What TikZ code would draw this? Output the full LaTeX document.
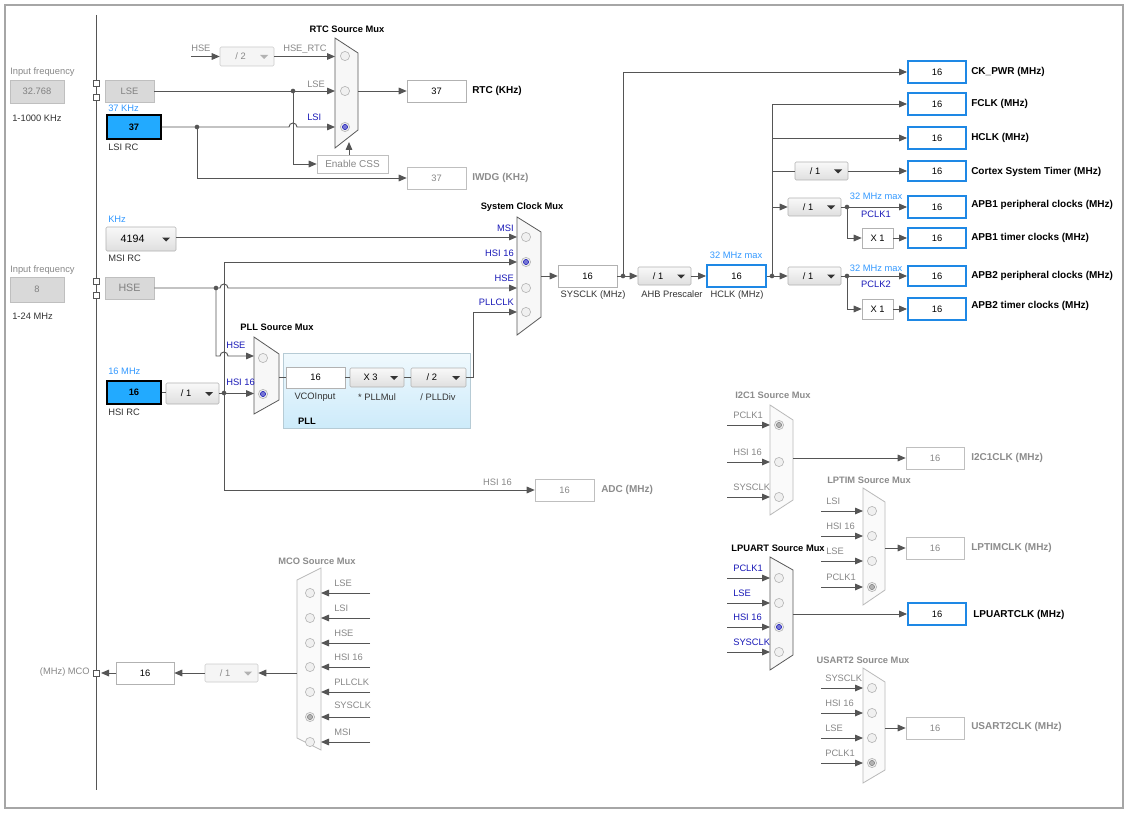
\documentclass[tikz,border=0pt]{standalone}
\usepackage{fontspec}
\setmainfont{Liberation Sans}
\usetikzlibrary{arrows.meta}
\definecolor{lblue}{HTML}{3399FF}
\definecolor{dblue}{HTML}{1A1AB8}
\definecolor{fillb}{HTML}{22AAFF}
\definecolor{bordb}{HTML}{1E88E5}
\definecolor{lc}{HTML}{555555}
\definecolor{gtxt}{HTML}{888888}
\definecolor{pllb}{HTML}{CDEBFA}
\newcommand\B[7]{\node[#1,minimum width={(#5-#3)*0.75pt},minimum height={(#6-#4)*0.75pt}] (#2) at ({(#3+#5)/2},{(#4+#6)/2}) {#7};}
\newcommand\D[7]{\node[#1,minimum width={(#5-#3)*0.75pt},minimum height={(#6-#4)*0.75pt}] (#2) at ({(#3+#5)/2},{(#4+#6)/2}) {};
 \node[#1x] at ({#3+(#5-#3)*0.38},{(#4+#6)/2}) {#7};
 \fill[#1t] ({#5-14},{(#4+#6)/2-1.5}) -- ++(8,0) -- ++(-4,4) -- cycle;}
\newcommand\Mux[7]{\draw[#1] (#2,#3) -- (#2,#4) -- (#5,#7) -- (#5,#6) -- cycle;}
\newcommand\R[2]{\draw[rad] (#1,#2) circle[radius=4.6];}
\newcommand\Rs[3]{\draw[rad] (#2,#3) circle[radius=4.6]; \draw[#1,fill=#1!60!white] (#2,#3) circle[radius=2.6];}
\begin{document}
\begin{tikzpicture}[x=0.75pt,y=-0.75pt,
 every node/.style={font=\fontsize{7}{8}\selectfont,inner sep=0pt},
 box/.style={draw=gray!60,fill=white},
 gbox/.style={draw=gray!50,fill=gray!30,text=gray},
 bbox/.style={draw=bordb,line width=1.4pt,fill=white},
 fbox/.style={draw=black,line width=0.8pt,fill=fillb,font=\fontsize{7}{8}\selectfont\bfseries},
 offbox/.style={draw=gray!50,fill=white,text=gtxt},
 dd/.style={draw=gray!60,top color=gray!5,bottom color=gray!25,rounded corners=1pt},
 ddx/.style={text=black},
 ddt/.style={fill=black!80},
 ddoff/.style={draw=gray!40,fill=gray!8,rounded corners=1pt},
 ddoffx/.style={text=gtxt},
 ddofft/.style={fill=gray!60},
 lbl/.style={text=black!80},
 glbl/.style={text=gtxt},
 blbl/.style={text=dblue},
 lb/.style={text=lblue},
 outl/.style={font=\fontsize{7.5}{9}\selectfont\bfseries,anchor=west},
 goutl/.style={outl,text=gray!90},
 ttl/.style={font=\fontsize{7}{8}\selectfont\bfseries},
 gttl/.style={ttl,text=gray!90},
 mx/.style={draw=gray!70!black,fill=gray!6,line width=0.6pt},
 mxoff/.style={draw=gray!55,fill=gray!4,line width=0.6pt},
 rad/.style={draw=gray!55,fill=gray!12,line width=0.5pt},
 ln/.style={draw=lc,line width=0.7pt},
 arr/.style={ln,-{Triangle[length=6pt,width=5pt]}},
 dot/.style={circle,fill=lc,minimum size=3.5pt},
 sq/.style={draw=lc,fill=white,line width=0.5pt}]
\useasboundingbox (0,0) rectangle (1128,813);
\fill[white] (0,0) rectangle (1128,813);
\draw[gray!70,line width=1.4pt] (5,5) rectangle (1123,808);
\draw[ln] (96,15) -- (96,790);

% ---------- RTC ----------
\node[glbl,anchor=west] at (10,72) {Input frequency};
\B{gbox}{lsef}{10}{80}{64}{103}{32.768}
\node[lbl,anchor=west] at (12,118) {1-1000 KHz};
\B{gbox}{lse}{105}{80}{154}{102}{LSE}
\draw[sq] (93,80) rectangle (99,86); \draw[sq] (93,94) rectangle (99,100);
\node[lb,anchor=west] at (108,108) {37 KHz};
\B{fbox}{lsi}{107}{115}{161}{139}{37}
\node[lbl,anchor=west] at (108,147) {LSI RC};
\node[ttl] (rtct) at (347,29) {RTC Source Mux};
\Mux{mx}{335}{38}{148}{358}{53}{130}
\R{345}{56}\R{345}{91}\Rs{dblue}{345}{127}
\coordinate (rtcin1) at (335,56); \coordinate (rtcin2) at (335,91); \coordinate (rtcin3) at (335,127);
\coordinate (rtcout) at (358,91); \coordinate (rtcbot) at (349,142);
\node[glbl,anchor=west] at (191,48) {HSE};
\coordinate (hsert) at (191,56.5);
\D{ddoff}{div2}{220}{47}{274}{66}{/ 2}
\draw[arr] (hsert) -- (div2.west);
\node[glbl,anchor=west] at (283,49) {HSE\_RTC};
\draw[arr] (div2.east) -- (div2.east -| rtcin1);
\node[glbl,anchor=west] at (307,84) {LSE};
\node[blbl,anchor=west] at (307,117) {LSI};
\coordinate (d1) at (293,91); \coordinate (d2) at (197,127);
\draw[arr] (lse.east |- rtcin2) -- (rtcin2);
\node[dot] at (d1) {};
\draw[arr] (lsi.east |- rtcin3) -- (289,127) arc (180:360:4) -- (rtcin3);
\node[dot] at (d2) {};
\B{offbox}{css}{317}{155}{388}{173}{\fontsize{7.5}{9}\selectfont Enable CSS}
\draw[arr] (d1) |- (css.west);
\draw[arr] (css.north -| rtcbot) -- (rtcbot);
\B{box}{rtcb}{407}{80}{466}{102}{37}
\B{offbox}{iwdg}{407}{167}{466}{189}{37}
\draw[arr] (rtcout) -- (rtcout -| rtcb.west);
\draw[arr] (d2) |- (iwdg.west);
\node[outl] at (472,91) {RTC (KHz)};
\node[goutl] at (472,178) {IWDG (KHz)};

% ---------- System clock ----------
\node[lb,anchor=west] at (108,219) {KHz};
\D{dd}{msi}{106}{227}{176}{251}{\fontsize{8}{9}\selectfont 4194}
\node[lbl,anchor=west] at (108,258) {MSI RC};
\node[glbl,anchor=west] at (10,270) {Input frequency};
\B{gbox}{hsef}{10}{277}{64}{302}{8}
\node[lbl,anchor=west] at (12,316) {1-24 MHz};
\B{gbox}{hse}{105}{277}{154}{299}{\fontsize{8}{9}\selectfont HSE}
\draw[sq] (93,278) rectangle (99,284); \draw[sq] (93,292) rectangle (99,298);
\node[lb,anchor=west] at (108,371) {16 MHz};
\B{fbox}{hsi}{107}{381}{161}{404}{16}
\node[lbl,anchor=west] at (108,412) {HSI RC};
\D{dd}{hsidiv}{166}{383}{219}{404}{/ 1}
\draw[ln] (hsi.east) -- (hsi.east -| hsidiv.west);

\node[ttl] at (522,207) {System Clock Mux};
\Mux{mx}{517}{217}{335}{541}{232}{317}
\R{526}{237}\Rs{dblue}{526}{262}\R{526}{288}\R{526}{312}
\coordinate (s1) at (517,237); \coordinate (s2) at (517,262); \coordinate (s3) at (517,288); \coordinate (s4) at (517,312);
\node[blbl,anchor=east] at (514,228) {MSI};
\node[blbl,anchor=east] at (514,253) {HSI 16};
\node[blbl,anchor=east] at (514,278) {HSE};
\node[blbl,anchor=east] at (514,302) {PLLCLK};
\draw[arr] (msi.east |- s1) -- (s1);
\coordinate (h16) at (224,393);
\coordinate (hsedot) at (216,288);
\draw[arr] (h16) -- (224,262) -- (s2);
\draw[arr] (hse.east |- s3) -- (220,288) arc (180:360:4) -- (s3);
\node[dot] at (hsedot) {};

\node[ttl] at (277,327) {PLL Source Mux};
\Mux{mx}{254}{337}{414}{279}{354}{400}
\R{263}{358}\Rs{dblue}{263}{394}
\coordinate (p1) at (254,356); \coordinate (p2) at (254,393.5);
\node[blbl,anchor=west] at (226,345) {HSE};
\node[blbl,anchor=west] at (226,382) {HSI 16};
\draw[arr] (hsedot) -- (216,356) -- (220,356) arc (180:360:4) -- (p1);
\draw[arr] (hsidiv.east) -- (p2);
\node[dot] at (h16) {};
\fill[top color=pllb!30,bottom color=pllb] (283,353) rectangle (470,428);
\draw[pllb!70!gray] (283,353) rectangle (470,428);
\node[ttl] at (307,421) {PLL};
\B{box}{vco}{286}{367}{345}{388}{16}
\D{dd}{mul}{350}{368}{404}{387}{X 3}
\D{dd}{pdiv}{411}{368}{466}{387}{/ 2}
\node[lbl] at (315,397) {VCOInput};
\node[lbl] at (377,397) {* PLLMul};
\node[lbl] at (438,397) {/ PLLDiv};
\draw[ln] (279,377.5) -- (279,377.5 -| vco.west);
\draw[ln] (vco.east |- mul.west) -- (mul.west);
\draw[ln] (mul.east) -- (pdiv.west);
\draw[arr] (pdiv.east) -- (473,377.5) -- (473,312) -- (s4);

\node[glbl,anchor=east] at (512,482) {HSI 16};
\B{offbox}{adc}{535}{479}{594}{501}{16}
\draw[arr] (224,262) -- (224,490) -- (adc.west);
\node[goutl] at (601,490) {ADC (MHz)};

\B{box}{sysclk}{558}{265}{617}{287}{16}
\node[lbl] at (593,295) {SYSCLK (MHz)};
\draw[arr] (541,276) -- (sysclk.west);
\coordinate (sd) at (623,276);
\D{dd}{ahb}{638}{267}{691}{285}{/ 1}
\node[lbl] at (672,294) {AHB Prescaler};
\draw[arr] (sysclk.east) -- (ahb.west);
\node[dot] at (sd) {};
\B{bbox}{hclkb}{707}{265}{766}{287}{16}
\node[lb] at (736,255) {32 MHz max};
\node[lbl] at (737,295) {HCLK (MHz)};
\draw[arr] (ahb.east) -- (hclkb.west);

% outputs
\B{bbox}{ckpwr}{908}{61}{966}{83}{16}
\B{bbox}{fclk}{908}{93}{966}{115}{16}
\B{bbox}{hclko}{908}{127}{966}{149}{16}
\B{bbox}{cort}{908}{161}{966}{181}{16}
\B{bbox}{apb1}{908}{196}{966}{218}{16}
\B{bbox}{apb1t}{908}{228}{966}{248}{16}
\B{bbox}{apb2}{908}{266}{966}{286}{16}
\B{bbox}{apb2t}{908}{298}{966}{320}{16}
\node[outl] at (971,72) {CK\_PWR (MHz)};
\node[outl] at (971,104) {FCLK (MHz)};
\node[outl] at (971,138) {HCLK (MHz)};
\node[outl] at (971,172) {Cortex System Timer (MHz)};
\node[outl] at (971,205) {APB1 peripheral clocks (MHz)};
\node[outl] at (971,238) {APB1 timer clocks (MHz)};
\node[outl] at (971,276) {APB2 peripheral clocks (MHz)};
\node[outl] at (971,306) {APB2 timer clocks (MHz)};
\draw[arr] (sd) -- (623,72) -- (ckpwr.west);
\coordinate (hd) at (772,276);
\draw[arr] (hd) -- (772,104) -- (fclk.west);
\draw[arr] (772,138) -- (hclko.west);
\D{dd}{cdiv}{795}{162}{848}{180}{/ 1}
\draw[ln] (772,171) -- (cdiv.west);
\draw[arr] (cdiv.east) -- (cort.west);
\D{dd}{a1div}{788}{198}{841}{216}{/ 1}
\draw[arr] (772,207) -- (a1div.west);
\coordinate (a1d) at (847,207);
\draw[arr] (a1div.east) -- (apb1.west);
\node[dot] at (a1d) {};
\node[lb] at (876,196) {32 MHz max};
\node[blbl] at (876,214) {PCLK1};
\B{box}{x1a}{862}{228}{893}{248}{X 1}
\draw[arr] (a1d) |- (x1a.west);
\draw[arr] (x1a.east) -- (apb1t.west);
\D{dd}{a2div}{788}{267}{841}{285}{/ 1}
\draw[arr] (hclkb.east) -- (a2div.west);
\node[dot] at (hd) {};
\coordinate (a2d) at (847,276);
\draw[arr] (a2div.east) -- (apb2.west);
\node[dot] at (a2d) {};
\node[lb] at (876,268) {32 MHz max};
\node[blbl] at (876,284) {PCLK2};
\B{box}{x1b}{862}{299}{893}{319}{X 1}
\draw[arr] (a2d) |- (x1b.west);
\draw[arr] (x1b.east) -- (apb2t.west);

% ---------- MCO ----------
\node[gttl] at (317,561) {MCO Source Mux};
\Mux{mxoff}{321}{568}{750}{297}{580}{738}
\foreach \y/\t in {593/LSE,618/LSI,643/HSE,667/HSI 16,692/PLLCLK,742/MSI}{
  \R{310}{\y}
  \coordinate (m\y) at (321,\y);
  \draw[arr] (370,\y) -- (m\y);
  \node[glbl,anchor=west] at (334,\y-10) {\t};}
\Rs{gray}{310}{717}
\coordinate (m717) at (321,717);
\draw[arr] (370,717) -- (m717);
\node[glbl,anchor=west] at (334,705) {SYSCLK};
\D{ddoff}{mdiv}{205}{664}{258}{682}{/ 1}
\B{box}{mco}{116}{662}{174}{684}{16}
\coordinate (mcop) at (101,673);
\draw[arr] (297,673) -- (mdiv.east);
\draw[arr] (mdiv.west) -- (mco.east);
\draw[arr] (mco.west) -- (mcop);
\draw[sq] (93,670) rectangle (99,676);
\node[glbl,anchor=east] at (90,672) {(MHz) MCO};

% ---------- I2C1 ----------
\node[gttl] at (773,395) {I2C1 Source Mux};
\Mux{mxoff}{770}{405}{515}{793}{420}{500}
\Rs{gray}{779}{425}\R{779}{462}\R{779}{497}
\foreach \y/\t in {425/PCLK1,462/HSI 16,497/SYSCLK}{
 \coordinate (i\y) at (770,\y);
 \draw[arr] (727,\y) -- (i\y);
 \node[glbl,anchor=west] at (733,\y-10) {\t};}
\B{offbox}{i2c}{906}{447}{964}{469}{16}
\draw[arr] (793,458) -- (i2c.west);
\node[goutl] at (971,458) {I2C1CLK (MHz)};

% ---------- LPTIM ----------
\node[gttl] at (869,480) {LPTIM Source Mux};
\Mux{mxoff}{863}{488}{605}{885}{502}{590}
\R{872}{511}\R{872}{536}\R{872}{561}\Rs{gray}{872}{587}
\foreach \y/\t in {511/LSI,536/HSI 16,561/LSE,587/PCLK1}{
 \coordinate (l\y) at (863,\y);
 \draw[arr] (821,\y) -- (l\y);
 \node[glbl,anchor=west] at (826,\y-10) {\t};}
\B{offbox}{lptim}{906}{537}{964}{559}{16}
\draw[arr] (885,548) -- (lptim.west);
\node[goutl] at (971,548) {LPTIMCLK (MHz)};

% ---------- LPUART ----------
\node[ttl] at (778,548) {LPUART Source Mux};
\Mux{mx}{770}{557}{670}{793}{570}{655}
\R{779}{578}\R{779}{603}\Rs{dblue}{779}{627}\R{779}{652}
\foreach \y/\t in {578/PCLK1,603/LSE,627/HSI 16,652/SYSCLK}{
 \coordinate (u\y) at (770,\y);
 \draw[arr] (727,\y) -- (u\y);
 \node[blbl,anchor=west] at (733,\y-10) {\t};}
\B{bbox}{lpuart}{908}{603}{966}{625}{16}
\draw[arr] (793,614) -- (lpuart.west);
\node[outl] at (973,615) {LPUARTCLK (MHz)};

% ---------- USART2 ----------
\node[gttl] at (863,660) {USART2 Source Mux};
\Mux{mxoff}{863}{668}{783}{885}{682}{770}
\R{872}{688}\R{872}{713}\R{872}{738}\Rs{gray}{872}{763}
\foreach \y/\t in {688/SYSCLK,713/HSI 16,738/LSE,763/PCLK1}{
 \coordinate (v\y) at (863,\y);
 \draw[arr] (821,\y) -- (v\y);
 \node[glbl,anchor=west] at (825,\y-10) {\t};}
\B{offbox}{usart}{906}{717}{964}{739}{16}
\draw[arr] (885,728) -- (usart.west);
\node[goutl] at (971,727) {USART2CLK (MHz)};
\end{tikzpicture}
\end{document}
